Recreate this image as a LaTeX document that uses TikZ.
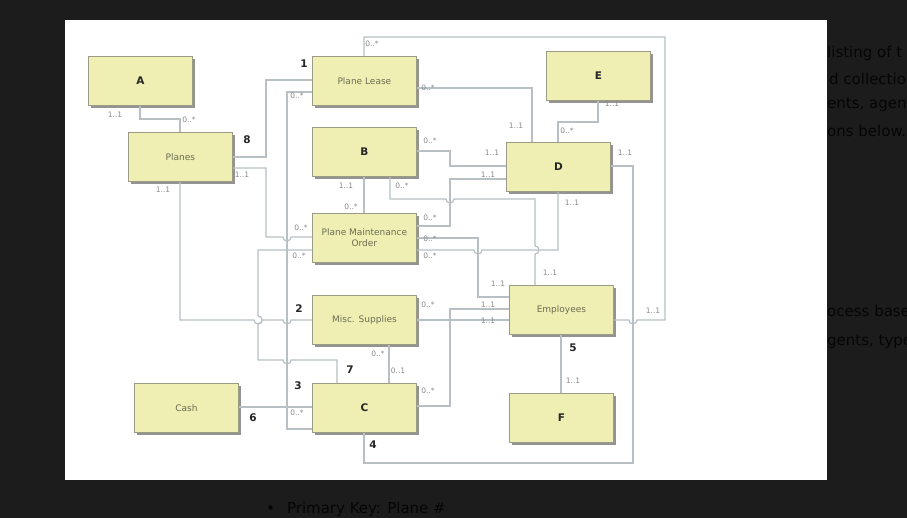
\documentclass[tikz,border=0pt]{standalone}
\usepackage{fontspec}
\setmainfont{DejaVu Sans}
\usetikzlibrary{shadows}
\definecolor{bx}{HTML}{EFEFB4}
\definecolor{bxd}{HTML}{9C9C86}
\definecolor{ln}{HTML}{B8C0C4}
\definecolor{lb}{HTML}{8A8A8A}
\definecolor{bg}{HTML}{1C1C1C}
\definecolor{dk}{HTML}{050505}
\begin{document}
\begin{tikzpicture}[x=1pt,y=-1pt,
  box/.style={draw=bxd,fill=bx,line width=0.8pt,minimum width=104pt,minimum height=49pt,inner sep=0pt,
    drop shadow={shadow xshift=2.5pt,shadow yshift=-2.5pt,fill=black!60,opacity=0.7},
    font=\fontsize{9}{11}\selectfont,text=black!55!bx,align=center,anchor=north west},
  big/.style={font=\fontsize{10.5}{12}\selectfont\bfseries,text=black!85},
  con/.style={draw=ln,line width=1.2pt},
  m/.style={font=\fontsize{7.5}{8}\selectfont,text=lb,inner sep=0pt},
  num/.style={font=\fontsize{10.5}{12}\selectfont\bfseries,text=black!85,inner sep=0pt},
  side/.style={font=\fontsize{15}{16}\selectfont,text=dk,anchor=west,inner sep=0pt}]
\useasboundingbox (0,0) rectangle (907,518);
\fill[bg] (0,0) rectangle (907,518);
\node[side] (s1) at (827,53) {listing of t};
\node[side] (s2) at (829,79) {d collection};
\node[side] (s3) at (827,105) {ents, agent};
\node[side] (s4) at (827,131) {ons below.};
\node[side] (s5) at (827,311) {ocess base};
\node[side] (s6) at (827,342) {gents, type};
\node[side] (s7) at (266,509) {\textbullet\hspace{12pt}Primary Key: Plane \#};
\fill[white] (65,20) rectangle (827,480);

\node[box,big] (a) at (88,56) {A};
\node[box] (planes) at (128,132) {Planes};
\node[box] (pl) at (312,56) {Plane Lease};
\node[box,big] (b) at (312,127) {B};
\node[box] (pmo) at (312,213) {Plane Maintenance\\Order};
\node[box] (ms) at (312,295) {Misc. Supplies};
\node[box,big] (c) at (312,383) {C};
\node[box] (cash) at (134,383) {Cash};
\node[box,big] (e) at (546,51) {E};
\node[box,big] (d) at (506,142) {D};
\node[box] (emp) at (509,285) {Employees};
\node[box,big] (f) at (509,393) {F};

% A - Planes
\draw[con] (a.south -| 140,0) -- (140,119) -- (180,119) -- (planes.north -| 180,0);
% Planes - Plane Lease
\draw[con] (planes.east |- 0,157) -- (266,157) -- (266,80) -- (pl.west |- 0,80);
% Planes - PMO
\draw[con] (planes.east |- 0,168) -- (266,168) -- (266,237) -- (283,237) arc[start angle=180,end angle=0,radius=4] -- (pmo.west |- 0,237);
% Planes - Misc
\draw[con] (planes.south -| 180,0) -- (180,320) -- (254,320) arc[start angle=180,end angle=0,radius=4] -- (283,320) arc[start angle=180,end angle=0,radius=4] -- (ms.west |- 0,320);
% Plane Lease - C (3)
\draw[con] (pl.west |- 0,92) -- (287,92) -- (287,429) -- (c.west |- 0,429);
% PMO - C (7)
\draw[con] (pmo.west |- 0,250) -- (258,250) -- (258,316) arc[start angle=-90,end angle=90,radius=4] -- (258,360) -- (283,360) arc[start angle=180,end angle=0,radius=4] -- (337,360) -- (c.north -| 337,0);
% Plane Lease - Employees
\draw[con] (pl.north -| 364,0) -- (364,37) -- (665,37) -- (665,320) -- (637,320) arc[start angle=0,end angle=180,radius=4] -- (emp.east |- 0,320);
% Plane Lease - D
\draw[con] (pl.east |- 0,88) -- (532,88) -- (d.north -| 532,0);
% E - D
\draw[con] (e.south -| 598,0) -- (598,122) -- (558,122) -- (d.north -| 558,0);
% B - D
\draw[con] (b.east |- 0,151) -- (450,151) -- (450,166) -- (d.west |- 0,166);
% B - PMO
\draw[con] (b.south -| 364,0) -- (pmo.north -| 364,0);
% B - Employees
\draw[con] (b.south -| 390,0) -- (390,199) -- (446,199) arc[start angle=180,end angle=0,radius=4] -- (535,199) -- (535,246) arc[start angle=-90,end angle=90,radius=4] -- (emp.north -| 535,0);
% PMO - D
\draw[con] (pmo.east |- 0,226) -- (450,226) -- (450,179) -- (d.west |- 0,179);
% PMO - Employees
\draw[con] (pmo.east |- 0,238) -- (478,238) -- (478,297) -- (emp.west |- 0,297);
% PMO - D bottom
\draw[con] (pmo.east |- 0,250) -- (474,250) arc[start angle=180,end angle=0,radius=4] -- (558,250) -- (d.south -| 558,0);
% Misc - Employees
\draw[con] (ms.east |- 0,320) -- (emp.west |- 0,320);
% C - Employees
\draw[con] (c.east |- 0,406) -- (450,406) -- (450,309) -- (emp.west |- 0,309);
% Misc - C
\draw[con] (ms.south -| 389,0) -- (c.north -| 389,0);
% Cash - C
\draw[con] (cash.east |- 0,407) -- (c.west |- 0,407);
% C - D (4)
\draw[con] (c.south -| 364,0) -- (364,463) -- (633,463) -- (633,166) -- (d.east |- 0,166);
% Employees - F
\draw[con] (emp.south -| 561,0) -- (f.north -| 561,0);

% numbers
\node[num] (n1) at (304,64) {1};
\node[num] (n8) at (247,140) {8};
\node[num] (n2) at (299,309) {2};
\node[num] (n3) at (298,386) {3};
\node[num] (n7) at (350,370) {7};
\node[num] (n6) at (253,418) {6};
\node[num] (n4) at (373,445) {4};
\node[num] (n5) at (573,348) {5};

% multiplicities
\node[m] at (115,115) {1..1};
\node[m] at (189,120) {0..*};
\node[m] at (242,175) {1..1};
\node[m] at (163,190) {1..1};
\node[m] at (297,96) {0..*};
\node[m] at (301,228) {0..*};
\node[m] at (299,256) {0..*};
\node[m] at (372,44) {0..*};
\node[m] at (428,88) {0..*};
\node[m] at (516,126) {1..1};
\node[m] at (612,104) {1..1};
\node[m] at (567,131) {0..*};
\node[m] at (430,141) {0..*};
\node[m] at (492,153) {1..1};
\node[m] at (488,175) {1..1};
\node[m] at (625,153) {1..1};
\node[m] at (346,186) {1..1};
\node[m] at (402,186) {0..*};
\node[m] at (351,207) {0..*};
\node[m] at (430,218) {0..*};
\node[m] at (430,239) {0..*};
\node[m] at (430,256) {0..*};
\node[m] at (572,203) {1..1};
\node[m] at (550,273) {1..1};
\node[m] at (498,284) {1..1};
\node[m] at (428,305) {0..*};
\node[m] at (488,305) {1..1};
\node[m] at (488,321) {1..1};
\node[m] at (653,311) {1..1};
\node[m] at (378,354) {0..*};
\node[m] at (398,371) {0..1};
\node[m] at (428,391) {0..*};
\node[m] at (297,413) {0..*};
\node[m] at (573,381) {1..1};
\end{tikzpicture}
\end{document}
